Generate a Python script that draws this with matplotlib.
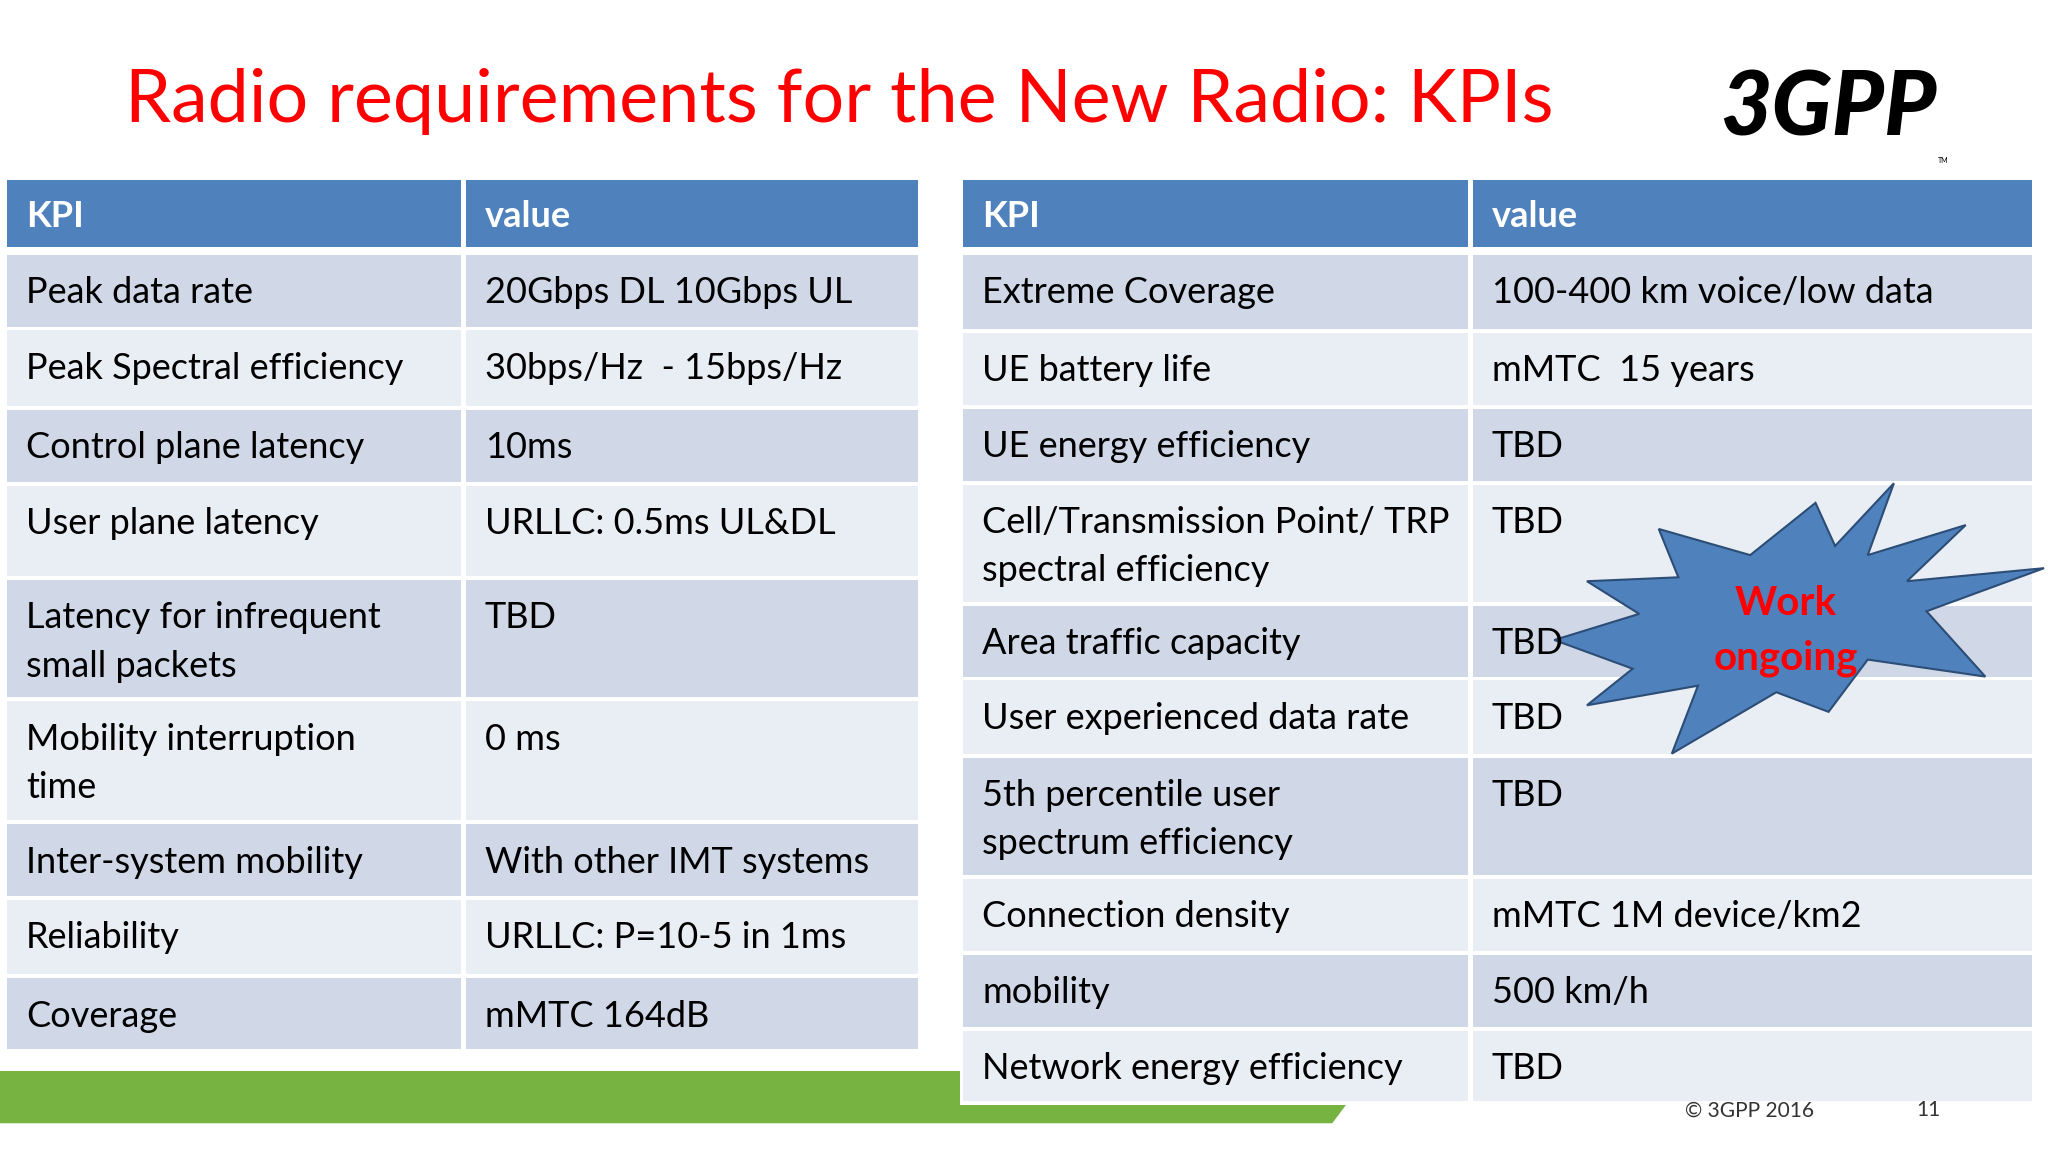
import matplotlib
matplotlib.use("Agg")
import matplotlib.pyplot as plt
from matplotlib.patches import Rectangle, Polygon

plt.rcParams['font.family'] = ['Lato', 'DejaVu Sans']

title = "Radio requirements for the New Radio: KPIs"
headers = ["KPI", "value"]
left_kpi = ["Peak data rate", "Peak Spectral efficiency", "Control plane latency", "User plane latency",
            "Latency for infrequent\nsmall packets", "Mobility interruption\ntime", "Inter-system mobility",
            "Reliability", "Coverage"]
left_val = ["20Gbps DL 10Gbps UL", "30bps/Hz  - 15bps/Hz", "10ms", "URLLC: 0.5ms UL&DL", "TBD", "0 ms",
            "With other IMT systems", "URLLC: P=10-5 in 1ms", "mMTC 164dB"]
left_rows = [(195, 250), (253, 311), (314, 369), (372, 441), (444, 534), (537, 628), (631, 686), (689, 746), (749, 803)]
right_kpi = ["Extreme Coverage", "UE battery life", "UE energy efficiency",
             "Cell/Transmission Point/ TRP\nspectral efficiency", "Area traffic capacity",
             "User experienced data rate", "5th percentile user\nspectrum efficiency", "Connection density",
             "mobility", "Network energy efficiency"]
right_val = ["100-400 km voice/low data", "mMTC  15 years", "TBD", "TBD", "TBD", "TBD", "TBD",
             "mMTC 1M device/km2", "500 km/h", "TBD"]
right_rows = [(195, 252), (255, 310), (313, 368), (371, 461), (464, 518), (521, 577), (580, 670), (673, 728),
              (731, 786), (789, 843)]

HDR = "#4F81BD"; ODD = "#D0D8E8"; EVEN = "#E9EDF4"
fig = plt.figure(figsize=(20.48, 11.52), dpi=100)
ax = fig.add_axes([0, 0, 1, 1])
ax.set_xlim(0, 1568); ax.set_ylim(882, 0); ax.axis('off')

ax.add_patch(Polygon([(0, 820), (1050, 820), (1020, 860), (0, 860)], closed=True, color="#77B341", lw=0))
ax.text(1290, 850, "© 3GPP 2016", fontsize=15, color="#333333", va='center')
ax.text(1467, 850, "11", fontsize=15, color="#333333", va='center')

ax.text(96, 78, title, fontsize=53, color="#FF0000", va='center', ha='left')
ax.text(1400, 84, "3GPP", fontsize=64, fontweight='black', style='italic', color='black', va='center', ha='center')
ax.text(1484, 125, "TM", fontsize=5, color='black')

def cell(x, a, s, fs, **kw):
    for j, line in enumerate(s.split("\n")):
        ax.text(x, a + 29 + 37 * j, line, fontsize=fs, va='center', **kw)

def table(x0, xs, x1, rows, kpis, vals):
    fs = 26
    ax.add_patch(Rectangle((x0, 138), xs - x0 - 2, 51, color=HDR, lw=0))
    ax.add_patch(Rectangle((xs + 2, 138), x1 - xs - 2, 51, color=HDR, lw=0))
    ax.text(x0 + 15, 166, headers[0], fontsize=fs, fontweight='bold', color='white', va='center')
    ax.text(xs + 16, 166, headers[1], fontsize=fs, fontweight='bold', color='white', va='center')
    for i, ((a, b), k, v) in enumerate(zip(rows, kpis, vals)):
        c = ODD if i % 2 == 0 else EVEN
        ax.add_patch(Rectangle((x0, a), xs - x0 - 2, b - a, color=c, lw=0))
        ax.add_patch(Rectangle((xs + 2, a), x1 - xs - 2, b - a, color=c, lw=0))
        cell(x0 + 15, a, k, fs, color='black')
        cell(xs + 16, a, v, fs, color='black')

ax.add_patch(Rectangle((735, 136), 823, 710, color='white', lw=0))
table(5, 355, 703, left_rows, left_kpi, left_val)
table(737, 1126, 1556, right_rows, right_kpi, right_val)

star = [(1450, 370), (1430, 425), (1505, 402), (1460, 445), (1565, 435), (1475, 468), (1520, 518), (1430, 505),
        (1400, 545), (1360, 530), (1280, 577), (1300, 525), (1215, 540), (1250, 512), (1190, 490), (1255, 470),
        (1215, 445), (1285, 442), (1270, 405), (1340, 425), (1390, 385), (1405, 418)]
ax.add_patch(Polygon(star, closed=True, facecolor=HDR, edgecolor="#2C4D75", lw=1.5))
ax.text(1367, 462, "Work", fontsize=29, fontweight='bold', color="#FF0000", ha='center', va='center')
ax.text(1367, 504, "ongoing", fontsize=29, fontweight='bold', color="#FF0000", ha='center', va='center')

fig.savefig("out.png", dpi=100)
